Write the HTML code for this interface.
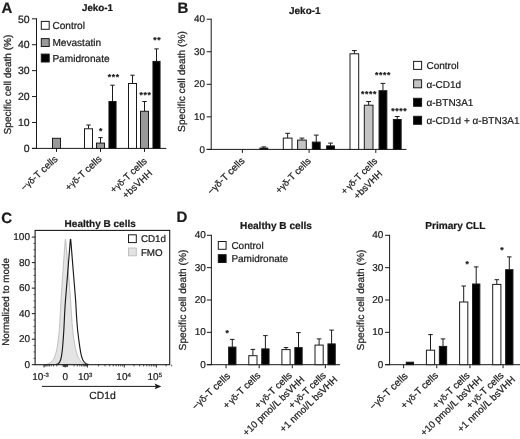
<!DOCTYPE html>
<html><head><meta charset="utf-8"><title>Figure</title>
<style>
html,body{margin:0;padding:0;background:#fff;}
svg{display:block;font-family:"Liberation Sans", sans-serif;}
text{stroke:#1a1a1a;stroke-width:0.22px;text-rendering:geometricPrecision;}
</style></head>
<body>
<svg width="520" height="439" viewBox="0 0 520 439">
<rect x="0" y="0" width="520" height="439" fill="#ffffff"/>
<g id="panelA">
<text x="1.6" y="12.7" font-size="15" font-weight="bold" fill="#1a1a1a">A</text>
<text x="97.5" y="10.5" font-size="9.8" text-anchor="middle" font-weight="bold" fill="#1a1a1a">Jeko-1</text>
<line x1="36.5" y1="18.3" x2="36.5" y2="148.9" stroke="#1a1a1a" stroke-width="1"/>
<line x1="32" y1="148.4" x2="166.3" y2="148.4" stroke="#1a1a1a" stroke-width="1"/>
<line x1="32" y1="148.4" x2="36.5" y2="148.4" stroke="#1a1a1a" stroke-width="1"/>
<text x="29.7" y="152.1" font-size="10.5" text-anchor="end" fill="#1a1a1a">0</text>
<line x1="32" y1="122.48" x2="36.5" y2="122.48" stroke="#1a1a1a" stroke-width="1"/>
<text x="29.7" y="126.18" font-size="10.5" text-anchor="end" fill="#1a1a1a">10</text>
<line x1="32" y1="96.56" x2="36.5" y2="96.56" stroke="#1a1a1a" stroke-width="1"/>
<text x="29.7" y="100.26" font-size="10.5" text-anchor="end" fill="#1a1a1a">20</text>
<line x1="32" y1="70.64" x2="36.5" y2="70.64" stroke="#1a1a1a" stroke-width="1"/>
<text x="29.7" y="74.34" font-size="10.5" text-anchor="end" fill="#1a1a1a">30</text>
<line x1="32" y1="44.72" x2="36.5" y2="44.72" stroke="#1a1a1a" stroke-width="1"/>
<text x="29.7" y="48.42" font-size="10.5" text-anchor="end" fill="#1a1a1a">40</text>
<line x1="32" y1="18.8" x2="36.5" y2="18.8" stroke="#1a1a1a" stroke-width="1"/>
<text x="29.7" y="22.5" font-size="10.5" text-anchor="end" fill="#1a1a1a">50</text>
<text x="10.8" y="84.5" font-size="10.1" text-anchor="middle" fill="#1a1a1a" transform="rotate(-90 10.8 84.5)">Specific cell death (%)</text>
<rect x="41.3" y="21.4" width="7.9" height="7.9" fill="#fff" stroke="#1a1a1a" stroke-width="1"/>
<text x="52.4" y="29.2" font-size="10.1" fill="#1a1a1a">Control</text>
<rect x="41.3" y="38.6" width="7.9" height="7.9" fill="#999" stroke="#1a1a1a" stroke-width="1"/>
<text x="52.4" y="46.4" font-size="10.1" fill="#1a1a1a">Mevastatin</text>
<rect x="41.3" y="54.1" width="7.9" height="7.9" fill="#000" stroke="#1a1a1a" stroke-width="1"/>
<text x="52.4" y="61.9" font-size="10.1" fill="#1a1a1a">Pamidronate</text>
<rect x="52.5" y="138.3" width="8" height="10.1" fill="#999" stroke="#1a1a1a" stroke-width="1"/>
<line x1="56.5" y1="148.4" x2="56.5" y2="151.9" stroke="#1a1a1a" stroke-width="1"/>
<line x1="88.5" y1="128.8" x2="88.5" y2="125" stroke="#1a1a1a" stroke-width="1"/>
<line x1="86.3" y1="125" x2="90.7" y2="125" stroke="#1a1a1a" stroke-width="1"/>
<rect x="84.5" y="128.8" width="8" height="19.6" fill="#fff" stroke="#1a1a1a" stroke-width="1"/>
<line x1="100.5" y1="143.1" x2="100.5" y2="137.6" stroke="#1a1a1a" stroke-width="1"/>
<line x1="98.3" y1="137.6" x2="102.7" y2="137.6" stroke="#1a1a1a" stroke-width="1"/>
<rect x="96.5" y="143.1" width="8" height="5.3" fill="#999" stroke="#1a1a1a" stroke-width="1"/>
<line x1="112.5" y1="101.5" x2="112.5" y2="85.2" stroke="#1a1a1a" stroke-width="1"/>
<line x1="110.3" y1="85.2" x2="114.7" y2="85.2" stroke="#1a1a1a" stroke-width="1"/>
<rect x="108.95" y="101.5" width="7.1" height="46.9" fill="#000" stroke="#1a1a1a" stroke-width="1"/>
<line x1="100.5" y1="148.4" x2="100.5" y2="151.9" stroke="#1a1a1a" stroke-width="1"/>
<line x1="132.5" y1="83.5" x2="132.5" y2="75.2" stroke="#1a1a1a" stroke-width="1"/>
<line x1="130.3" y1="75.2" x2="134.7" y2="75.2" stroke="#1a1a1a" stroke-width="1"/>
<rect x="128.5" y="83.5" width="8" height="64.9" fill="#fff" stroke="#1a1a1a" stroke-width="1"/>
<line x1="144.5" y1="111.3" x2="144.5" y2="101.5" stroke="#1a1a1a" stroke-width="1"/>
<line x1="142.3" y1="101.5" x2="146.7" y2="101.5" stroke="#1a1a1a" stroke-width="1"/>
<rect x="140.5" y="111.3" width="8" height="37.1" fill="#999" stroke="#1a1a1a" stroke-width="1"/>
<line x1="156.5" y1="61.4" x2="156.5" y2="48.9" stroke="#1a1a1a" stroke-width="1"/>
<line x1="154.3" y1="48.9" x2="158.7" y2="48.9" stroke="#1a1a1a" stroke-width="1"/>
<rect x="152.95" y="61.4" width="7.1" height="87" fill="#000" stroke="#1a1a1a" stroke-width="1"/>
<line x1="144.5" y1="148.4" x2="144.5" y2="151.9" stroke="#1a1a1a" stroke-width="1"/>
<text x="113.7" y="80.4" font-size="8.6" text-anchor="middle" font-weight="bold" fill="#1a1a1a" letter-spacing="0.65">***</text>
<text x="100.8" y="133.6" font-size="8.6" text-anchor="middle" font-weight="bold" fill="#1a1a1a">*</text>
<text x="145.5" y="98" font-size="8.6" text-anchor="middle" font-weight="bold" fill="#1a1a1a" letter-spacing="0.65">***</text>
<text x="157.2" y="43.4" font-size="8.6" text-anchor="middle" font-weight="bold" fill="#1a1a1a" letter-spacing="0.65">**</text>
<text x="58.3" y="159.8" font-size="9.8" text-anchor="end" fill="#1a1a1a" transform="rotate(-43 58.3 159.8)">−<tspan font-size="8.8">γδ</tspan>-T cells</text>
<text x="102.3" y="159.8" font-size="9.7" text-anchor="end" fill="#1a1a1a" transform="rotate(-43 102.3 159.8)">+<tspan font-size="8.8">γδ</tspan>-T cells</text>
<text x="147.5" y="162" font-size="9.7" text-anchor="end" fill="#1a1a1a" transform="rotate(-43 147.5 162)">+<tspan font-size="8.8">γδ</tspan>-T cells</text>
<text x="153" y="174" font-size="9.8" text-anchor="end" fill="#1a1a1a" transform="rotate(-43 153 174)">+bsVHH</text>
</g>
<g id="panelB">
<text x="177.6" y="12.7" font-size="15" font-weight="bold" fill="#1a1a1a">B</text>
<text x="304.8" y="13.8" font-size="10" text-anchor="middle" font-weight="bold" fill="#1a1a1a">Jeko-1</text>
<line x1="211.2" y1="18.7" x2="211.2" y2="149.9" stroke="#1a1a1a" stroke-width="1"/>
<line x1="206.7" y1="149.4" x2="406.5" y2="149.4" stroke="#1a1a1a" stroke-width="1"/>
<line x1="206.7" y1="149.4" x2="211.2" y2="149.4" stroke="#1a1a1a" stroke-width="1"/>
<text x="204.9" y="152.5" font-size="9.8" text-anchor="end" fill="#1a1a1a">0</text>
<line x1="206.7" y1="116.85" x2="211.2" y2="116.85" stroke="#1a1a1a" stroke-width="1"/>
<text x="204.9" y="119.95" font-size="9.8" text-anchor="end" fill="#1a1a1a">10</text>
<line x1="206.7" y1="84.3" x2="211.2" y2="84.3" stroke="#1a1a1a" stroke-width="1"/>
<text x="204.9" y="87.4" font-size="9.8" text-anchor="end" fill="#1a1a1a">20</text>
<line x1="206.7" y1="51.75" x2="211.2" y2="51.75" stroke="#1a1a1a" stroke-width="1"/>
<text x="204.9" y="54.85" font-size="9.8" text-anchor="end" fill="#1a1a1a">30</text>
<line x1="206.7" y1="19.2" x2="211.2" y2="19.2" stroke="#1a1a1a" stroke-width="1"/>
<text x="204.9" y="22.3" font-size="9.8" text-anchor="end" fill="#1a1a1a">40</text>
<text x="184.6" y="81.5" font-size="10.2" text-anchor="middle" fill="#1a1a1a" transform="rotate(-90 184.6 81.5)">Specific cell death (%)</text>
<line x1="263.85" y1="148.1" x2="263.85" y2="146.9" stroke="#1a1a1a" stroke-width="1"/>
<line x1="261.46" y1="146.9" x2="266.24" y2="146.9" stroke="#1a1a1a" stroke-width="1"/>
<rect x="259.95" y="148.1" width="7.8" height="1.3" fill="#000" stroke="#1a1a1a" stroke-width="1"/>
<line x1="242.4" y1="149.4" x2="242.4" y2="152.9" stroke="#1a1a1a" stroke-width="1"/>
<line x1="287.65" y1="138.1" x2="287.65" y2="133.3" stroke="#1a1a1a" stroke-width="1"/>
<line x1="285.26" y1="133.3" x2="290.04" y2="133.3" stroke="#1a1a1a" stroke-width="1"/>
<rect x="283.3" y="138.1" width="8.7" height="11.3" fill="#fff" stroke="#1a1a1a" stroke-width="1"/>
<line x1="301.95" y1="140.1" x2="301.95" y2="138.1" stroke="#1a1a1a" stroke-width="1"/>
<line x1="299.56" y1="138.1" x2="304.34" y2="138.1" stroke="#1a1a1a" stroke-width="1"/>
<rect x="297.6" y="140.1" width="8.7" height="9.3" fill="#c4c4c4" stroke="#1a1a1a" stroke-width="1"/>
<line x1="316.25" y1="142.1" x2="316.25" y2="135.1" stroke="#1a1a1a" stroke-width="1"/>
<line x1="313.86" y1="135.1" x2="318.64" y2="135.1" stroke="#1a1a1a" stroke-width="1"/>
<rect x="312.35" y="142.1" width="7.8" height="7.3" fill="#000" stroke="#1a1a1a" stroke-width="1"/>
<line x1="330.55" y1="145.9" x2="330.55" y2="143.1" stroke="#1a1a1a" stroke-width="1"/>
<line x1="328.16" y1="143.1" x2="332.94" y2="143.1" stroke="#1a1a1a" stroke-width="1"/>
<rect x="326.65" y="145.9" width="7.8" height="3.5" fill="#000" stroke="#1a1a1a" stroke-width="1"/>
<line x1="309.1" y1="149.4" x2="309.1" y2="152.9" stroke="#1a1a1a" stroke-width="1"/>
<line x1="354.35" y1="53.8" x2="354.35" y2="50.6" stroke="#1a1a1a" stroke-width="1"/>
<line x1="351.96" y1="50.6" x2="356.74" y2="50.6" stroke="#1a1a1a" stroke-width="1"/>
<rect x="350" y="53.8" width="8.7" height="95.6" fill="#fff" stroke="#1a1a1a" stroke-width="1"/>
<line x1="368.65" y1="105.2" x2="368.65" y2="101.5" stroke="#1a1a1a" stroke-width="1"/>
<line x1="366.26" y1="101.5" x2="371.04" y2="101.5" stroke="#1a1a1a" stroke-width="1"/>
<rect x="364.3" y="105.2" width="8.7" height="44.2" fill="#c4c4c4" stroke="#1a1a1a" stroke-width="1"/>
<line x1="382.95" y1="90.7" x2="382.95" y2="83.4" stroke="#1a1a1a" stroke-width="1"/>
<line x1="380.56" y1="83.4" x2="385.34" y2="83.4" stroke="#1a1a1a" stroke-width="1"/>
<rect x="379.05" y="90.7" width="7.8" height="58.7" fill="#000" stroke="#1a1a1a" stroke-width="1"/>
<line x1="397.25" y1="119.5" x2="397.25" y2="116.5" stroke="#1a1a1a" stroke-width="1"/>
<line x1="394.86" y1="116.5" x2="399.64" y2="116.5" stroke="#1a1a1a" stroke-width="1"/>
<rect x="393.35" y="119.5" width="7.8" height="29.9" fill="#000" stroke="#1a1a1a" stroke-width="1"/>
<line x1="375.8" y1="149.4" x2="375.8" y2="152.9" stroke="#1a1a1a" stroke-width="1"/>
<text x="369" y="97" font-size="8.6" text-anchor="middle" font-weight="bold" fill="#1a1a1a" letter-spacing="0.65">****</text>
<text x="382.9" y="77.5" font-size="8.6" text-anchor="middle" font-weight="bold" fill="#1a1a1a" letter-spacing="0.65">****</text>
<text x="399.2" y="113.9" font-size="8.6" text-anchor="middle" font-weight="bold" fill="#1a1a1a" letter-spacing="0.65">****</text>
<rect x="413.6" y="61.4" width="8" height="8" fill="#fff" stroke="#1a1a1a" stroke-width="1"/>
<text x="426.5" y="69.3" font-size="10" fill="#1a1a1a">Control</text>
<rect x="413.6" y="79.8" width="8" height="8" fill="#c4c4c4" stroke="#1a1a1a" stroke-width="1"/>
<text x="426.5" y="87.7" font-size="10" fill="#1a1a1a">α-CD1d</text>
<rect x="413.6" y="98.3" width="8" height="8" fill="#000" stroke="#1a1a1a" stroke-width="1"/>
<text x="426.5" y="106.2" font-size="10" fill="#1a1a1a">α-BTN3A1</text>
<rect x="413.6" y="116.3" width="8" height="8" fill="#000" stroke="#1a1a1a" stroke-width="1"/>
<text x="426.5" y="124.2" font-size="10" fill="#1a1a1a">α-CD1d + α-BTN3A1</text>
<text x="245.2" y="161.4" font-size="10" text-anchor="end" fill="#1a1a1a" transform="rotate(-45 245.2 161.4)">−<tspan font-size="9.5">γδ</tspan>-T cells</text>
<text x="311.5" y="161.6" font-size="9.6" text-anchor="end" fill="#1a1a1a" transform="rotate(-45 311.5 161.6)">+<tspan font-size="8.8">γδ</tspan>-T cells</text>
<text x="378" y="161.7" font-size="9.6" text-anchor="end" fill="#1a1a1a" transform="rotate(-45 378 161.7)">+<tspan dx="1.3" font-size="8.8">γδ</tspan>-T cells</text>
<text x="382.9" y="174.3" font-size="9.6" text-anchor="end" fill="#1a1a1a" transform="rotate(-45 382.9 174.3)">+bsVHH</text>
</g>
<g id="panelC">
<text x="1.2" y="223" font-size="15" font-weight="bold" fill="#1a1a1a">C</text>
<text x="100.2" y="226.5" font-size="10" text-anchor="middle" font-weight="bold" fill="#1a1a1a">Healthy B cells</text>
<path d="M46.6,364.4 C47,364.27 47.97,364.28 49,363.6 C50.03,362.92 51.78,361.67 52.8,360.3 C53.82,358.93 54.37,357.58 55.1,355.4 C55.83,353.22 56.52,351.3 57.2,347.2 C57.88,343.1 58.7,336.27 59.2,330.8 C59.7,325.33 59.9,319.53 60.2,314.4 C60.5,309.27 60.55,307.1 61,300 C61.45,292.9 62.25,281.13 62.9,271.8 C63.55,262.47 64.48,249.42 64.9,244 C65.33,238.58 65.27,239.3 65.45,239.3 C65.63,239.3 65.51,238.58 66,244 C66.49,249.42 67.63,262.47 68.4,271.8 C69.17,281.13 70.08,292.9 70.6,300 C71.12,307.1 71.13,309.27 71.5,314.4 C71.87,319.53 72.18,325.33 72.8,330.8 C73.42,336.27 74.43,343.1 75.2,347.2 C75.97,351.3 76.57,353.22 77.4,355.4 C78.23,357.58 79.2,358.93 80.2,360.3 C81.2,361.67 82.32,362.92 83.4,363.6 C84.48,364.28 86.15,364.27 86.7,364.4 Z" fill="#e4e4e4" stroke="#b4b4b4" stroke-width="0.8" stroke-linejoin="round"/>
<path d="M56.4,364.4 C56.73,364.27 57.72,364.28 58.4,363.6 C59.08,362.92 59.97,361.67 60.5,360.3 C61.03,358.93 61.25,357.58 61.6,355.4 C61.95,353.22 62.23,351.3 62.6,347.2 C62.97,343.1 63.47,336.27 63.8,330.8 C64.13,325.33 64.32,319.53 64.6,314.4 C64.88,309.27 64.97,307.1 65.5,300 C66.03,292.9 67.05,281.13 67.8,271.8 C68.55,262.47 69.54,249.42 70,244 C70.46,238.58 70.37,239.3 70.55,239.3 C70.73,239.3 70.64,238.58 71.1,244 C71.56,249.42 72.55,262.47 73.3,271.8 C74.05,281.13 75.08,292.9 75.6,300 C76.12,307.1 76.05,309.27 76.4,314.4 C76.75,319.53 77.13,325.33 77.7,330.8 C78.27,336.27 79.2,343.1 79.8,347.2 C80.4,351.3 80.77,353.22 81.3,355.4 C81.83,357.58 82.23,358.93 83,360.3 C83.77,361.67 85,362.92 85.9,363.6 C86.8,364.28 87.98,364.27 88.4,364.4" fill="none" stroke="#1a1a1a" stroke-width="1.15" stroke-linejoin="round"/>
<rect x="35.1" y="230.4" width="134.6" height="134.3" fill="none" stroke="#1a1a1a" stroke-width="1.1"/>
<line x1="31.8" y1="364.7" x2="35.1" y2="364.7" stroke="#1a1a1a" stroke-width="1"/>
<text x="30" y="367.8" font-size="10" text-anchor="end" fill="#1a1a1a">0</text>
<line x1="33.5" y1="358.32" x2="35.1" y2="358.32" stroke="#1a1a1a" stroke-width="0.7"/>
<line x1="33.5" y1="351.94" x2="35.1" y2="351.94" stroke="#1a1a1a" stroke-width="0.7"/>
<line x1="33.5" y1="345.56" x2="35.1" y2="345.56" stroke="#1a1a1a" stroke-width="0.7"/>
<line x1="31.8" y1="339.18" x2="35.1" y2="339.18" stroke="#1a1a1a" stroke-width="1"/>
<text x="30" y="342.28" font-size="10" text-anchor="end" fill="#1a1a1a">20</text>
<line x1="33.5" y1="332.8" x2="35.1" y2="332.8" stroke="#1a1a1a" stroke-width="0.7"/>
<line x1="33.5" y1="326.42" x2="35.1" y2="326.42" stroke="#1a1a1a" stroke-width="0.7"/>
<line x1="33.5" y1="320.04" x2="35.1" y2="320.04" stroke="#1a1a1a" stroke-width="0.7"/>
<line x1="31.8" y1="313.66" x2="35.1" y2="313.66" stroke="#1a1a1a" stroke-width="1"/>
<text x="30" y="316.76" font-size="10" text-anchor="end" fill="#1a1a1a">40</text>
<line x1="33.5" y1="307.28" x2="35.1" y2="307.28" stroke="#1a1a1a" stroke-width="0.7"/>
<line x1="33.5" y1="300.9" x2="35.1" y2="300.9" stroke="#1a1a1a" stroke-width="0.7"/>
<line x1="33.5" y1="294.52" x2="35.1" y2="294.52" stroke="#1a1a1a" stroke-width="0.7"/>
<line x1="31.8" y1="288.14" x2="35.1" y2="288.14" stroke="#1a1a1a" stroke-width="1"/>
<text x="30" y="291.24" font-size="10" text-anchor="end" fill="#1a1a1a">60</text>
<line x1="33.5" y1="281.76" x2="35.1" y2="281.76" stroke="#1a1a1a" stroke-width="0.7"/>
<line x1="33.5" y1="275.38" x2="35.1" y2="275.38" stroke="#1a1a1a" stroke-width="0.7"/>
<line x1="33.5" y1="269" x2="35.1" y2="269" stroke="#1a1a1a" stroke-width="0.7"/>
<line x1="31.8" y1="262.62" x2="35.1" y2="262.62" stroke="#1a1a1a" stroke-width="1"/>
<text x="30" y="265.72" font-size="10" text-anchor="end" fill="#1a1a1a">80</text>
<line x1="33.5" y1="256.24" x2="35.1" y2="256.24" stroke="#1a1a1a" stroke-width="0.7"/>
<line x1="33.5" y1="249.86" x2="35.1" y2="249.86" stroke="#1a1a1a" stroke-width="0.7"/>
<line x1="33.5" y1="243.48" x2="35.1" y2="243.48" stroke="#1a1a1a" stroke-width="0.7"/>
<line x1="31.8" y1="237.1" x2="35.1" y2="237.1" stroke="#1a1a1a" stroke-width="1"/>
<text x="30" y="240.2" font-size="10" text-anchor="end" fill="#1a1a1a">100</text>
<line x1="44" y1="364.7" x2="44" y2="367.5" stroke="#1a1a1a" stroke-width="0.9"/>
<line x1="65.3" y1="364.7" x2="65.3" y2="367.5" stroke="#1a1a1a" stroke-width="0.9"/>
<line x1="87.4" y1="364.7" x2="87.4" y2="367.5" stroke="#1a1a1a" stroke-width="0.9"/>
<line x1="124.3" y1="364.7" x2="124.3" y2="367.5" stroke="#1a1a1a" stroke-width="0.9"/>
<line x1="156.4" y1="364.7" x2="156.4" y2="367.5" stroke="#1a1a1a" stroke-width="0.9"/>
<line x1="63.1" y1="364.7" x2="63.1" y2="366.9" stroke="#1a1a1a" stroke-width="0.8"/>
<line x1="63.8" y1="364.7" x2="63.8" y2="366.9" stroke="#1a1a1a" stroke-width="0.8"/>
<line x1="64.5" y1="364.7" x2="64.5" y2="366.9" stroke="#1a1a1a" stroke-width="0.8"/>
<line x1="66.1" y1="364.7" x2="66.1" y2="366.9" stroke="#1a1a1a" stroke-width="0.8"/>
<line x1="66.8" y1="364.7" x2="66.8" y2="366.9" stroke="#1a1a1a" stroke-width="0.8"/>
<line x1="67.5" y1="364.7" x2="67.5" y2="366.9" stroke="#1a1a1a" stroke-width="0.8"/>
<line x1="56.79" y1="364.7" x2="56.79" y2="366.4" stroke="#1a1a1a" stroke-width="0.75"/>
<line x1="53.57" y1="364.7" x2="53.57" y2="366.4" stroke="#1a1a1a" stroke-width="0.75"/>
<line x1="51.28" y1="364.7" x2="51.28" y2="366.4" stroke="#1a1a1a" stroke-width="0.75"/>
<line x1="49.51" y1="364.7" x2="49.51" y2="366.4" stroke="#1a1a1a" stroke-width="0.75"/>
<line x1="48.06" y1="364.7" x2="48.06" y2="366.4" stroke="#1a1a1a" stroke-width="0.75"/>
<line x1="46.83" y1="364.7" x2="46.83" y2="366.4" stroke="#1a1a1a" stroke-width="0.75"/>
<line x1="45.77" y1="364.7" x2="45.77" y2="366.4" stroke="#1a1a1a" stroke-width="0.75"/>
<line x1="44.84" y1="364.7" x2="44.84" y2="366.4" stroke="#1a1a1a" stroke-width="0.75"/>
<line x1="74.05" y1="364.7" x2="74.05" y2="366.4" stroke="#1a1a1a" stroke-width="0.75"/>
<line x1="77.41" y1="364.7" x2="77.41" y2="366.4" stroke="#1a1a1a" stroke-width="0.75"/>
<line x1="79.8" y1="364.7" x2="79.8" y2="366.4" stroke="#1a1a1a" stroke-width="0.75"/>
<line x1="81.65" y1="364.7" x2="81.65" y2="366.4" stroke="#1a1a1a" stroke-width="0.75"/>
<line x1="83.16" y1="364.7" x2="83.16" y2="366.4" stroke="#1a1a1a" stroke-width="0.75"/>
<line x1="84.44" y1="364.7" x2="84.44" y2="366.4" stroke="#1a1a1a" stroke-width="0.75"/>
<line x1="85.55" y1="364.7" x2="85.55" y2="366.4" stroke="#1a1a1a" stroke-width="0.75"/>
<line x1="86.53" y1="364.7" x2="86.53" y2="366.4" stroke="#1a1a1a" stroke-width="0.75"/>
<line x1="98.51" y1="364.7" x2="98.51" y2="366.4" stroke="#1a1a1a" stroke-width="0.75"/>
<line x1="105.01" y1="364.7" x2="105.01" y2="366.4" stroke="#1a1a1a" stroke-width="0.75"/>
<line x1="109.62" y1="364.7" x2="109.62" y2="366.4" stroke="#1a1a1a" stroke-width="0.75"/>
<line x1="113.19" y1="364.7" x2="113.19" y2="366.4" stroke="#1a1a1a" stroke-width="0.75"/>
<line x1="116.11" y1="364.7" x2="116.11" y2="366.4" stroke="#1a1a1a" stroke-width="0.75"/>
<line x1="118.58" y1="364.7" x2="118.58" y2="366.4" stroke="#1a1a1a" stroke-width="0.75"/>
<line x1="120.72" y1="364.7" x2="120.72" y2="366.4" stroke="#1a1a1a" stroke-width="0.75"/>
<line x1="122.61" y1="364.7" x2="122.61" y2="366.4" stroke="#1a1a1a" stroke-width="0.75"/>
<line x1="133.96" y1="364.7" x2="133.96" y2="366.4" stroke="#1a1a1a" stroke-width="0.75"/>
<line x1="139.62" y1="364.7" x2="139.62" y2="366.4" stroke="#1a1a1a" stroke-width="0.75"/>
<line x1="143.63" y1="364.7" x2="143.63" y2="366.4" stroke="#1a1a1a" stroke-width="0.75"/>
<line x1="146.74" y1="364.7" x2="146.74" y2="366.4" stroke="#1a1a1a" stroke-width="0.75"/>
<line x1="149.28" y1="364.7" x2="149.28" y2="366.4" stroke="#1a1a1a" stroke-width="0.75"/>
<line x1="151.43" y1="364.7" x2="151.43" y2="366.4" stroke="#1a1a1a" stroke-width="0.75"/>
<line x1="153.29" y1="364.7" x2="153.29" y2="366.4" stroke="#1a1a1a" stroke-width="0.75"/>
<line x1="154.93" y1="364.7" x2="154.93" y2="366.4" stroke="#1a1a1a" stroke-width="0.75"/>
<line x1="166.06" y1="364.7" x2="166.06" y2="366.4" stroke="#1a1a1a" stroke-width="0.75"/>
<line x1="171.72" y1="364.7" x2="171.72" y2="366.4" stroke="#1a1a1a" stroke-width="0.75"/>
<text x="40.5" y="380.4" font-size="10" text-anchor="middle" fill="#1a1a1a">10<tspan font-size="6" dy="-3.8">-3</tspan></text>
<text x="65.3" y="380.4" font-size="10" text-anchor="middle" fill="#1a1a1a">0</text>
<text x="85.2" y="380.4" font-size="10" text-anchor="middle" fill="#1a1a1a">10<tspan font-size="6" dy="-3.8">3</tspan></text>
<text x="123.6" y="380.4" font-size="10" text-anchor="middle" fill="#1a1a1a">10<tspan font-size="6" dy="-3.8">4</tspan></text>
<text x="154.8" y="380.4" font-size="10" text-anchor="middle" fill="#1a1a1a">10<tspan font-size="6" dy="-3.8">5</tspan></text>
<line x1="41.9" y1="386.4" x2="156" y2="386.4" stroke="#1a1a1a" stroke-width="1"/>
<path d="M154.6,383.5 L161.3,386.4 L154.6,389.3 L156,386.4 Z" fill="#1a1a1a"/>
<text x="102.5" y="398.7" font-size="10.4" text-anchor="middle" fill="#1a1a1a">CD1d</text>
<text x="8.5" y="302" font-size="9.8" text-anchor="middle" fill="#1a1a1a" transform="rotate(-90 8.5 302)">Normalized to mode</text>
<rect x="128.5" y="234.8" width="7.8" height="7.8" fill="#fff" stroke="#1a1a1a" stroke-width="1"/>
<text x="140.9" y="242.2" font-size="9.8" fill="#1a1a1a">CD1d</text>
<rect x="128.5" y="248" width="7.8" height="7.8" fill="#e2e2e2" stroke="#bcbcbc" stroke-width="0.9"/>
<text x="140.9" y="255.5" font-size="9.8" fill="#1a1a1a">FMO</text>
</g>
<g id="panelD">
<text x="176.6" y="221.8" font-size="15" font-weight="bold" fill="#1a1a1a">D</text>
<text x="276" y="229.2" font-size="10.1" text-anchor="middle" font-weight="bold" fill="#1a1a1a">Healthy B cells</text>
<line x1="211.4" y1="234.8" x2="211.4" y2="365.2" stroke="#1a1a1a" stroke-width="1"/>
<line x1="206.9" y1="364.7" x2="340.1" y2="364.7" stroke="#1a1a1a" stroke-width="1"/>
<line x1="206.9" y1="364.7" x2="211.4" y2="364.7" stroke="#1a1a1a" stroke-width="1"/>
<text x="205.9" y="367.8" font-size="10" text-anchor="end" fill="#1a1a1a">0</text>
<line x1="206.9" y1="332.35" x2="211.4" y2="332.35" stroke="#1a1a1a" stroke-width="1"/>
<text x="205.9" y="335.45" font-size="10" text-anchor="end" fill="#1a1a1a">10</text>
<line x1="206.9" y1="300" x2="211.4" y2="300" stroke="#1a1a1a" stroke-width="1"/>
<text x="205.9" y="303.1" font-size="10" text-anchor="end" fill="#1a1a1a">20</text>
<line x1="206.9" y1="267.65" x2="211.4" y2="267.65" stroke="#1a1a1a" stroke-width="1"/>
<text x="205.9" y="270.75" font-size="10" text-anchor="end" fill="#1a1a1a">30</text>
<line x1="206.9" y1="235.3" x2="211.4" y2="235.3" stroke="#1a1a1a" stroke-width="1"/>
<text x="205.9" y="238.4" font-size="10" text-anchor="end" fill="#1a1a1a">40</text>
<text x="186.1" y="300" font-size="10.2" text-anchor="middle" fill="#1a1a1a" transform="rotate(-90 186.1 300)">Specific cell death (%)</text>
<line x1="232.3" y1="347.1" x2="232.3" y2="339.4" stroke="#1a1a1a" stroke-width="1"/>
<line x1="230.04" y1="339.4" x2="234.55" y2="339.4" stroke="#1a1a1a" stroke-width="1"/>
<rect x="228.65" y="347.1" width="7.3" height="17.6" fill="#000" stroke="#1a1a1a" stroke-width="1"/>
<line x1="226.05" y1="364.7" x2="226.05" y2="368.2" stroke="#1a1a1a" stroke-width="1"/>
<line x1="252.9" y1="355.7" x2="252.9" y2="349.4" stroke="#1a1a1a" stroke-width="1"/>
<line x1="250.65" y1="349.4" x2="255.16" y2="349.4" stroke="#1a1a1a" stroke-width="1"/>
<rect x="248.8" y="355.7" width="8.2" height="9" fill="#fff" stroke="#1a1a1a" stroke-width="1"/>
<line x1="265.4" y1="348.9" x2="265.4" y2="335.6" stroke="#1a1a1a" stroke-width="1"/>
<line x1="263.15" y1="335.6" x2="267.66" y2="335.6" stroke="#1a1a1a" stroke-width="1"/>
<rect x="261.75" y="348.9" width="7.3" height="15.8" fill="#000" stroke="#1a1a1a" stroke-width="1"/>
<line x1="259.15" y1="364.7" x2="259.15" y2="368.2" stroke="#1a1a1a" stroke-width="1"/>
<line x1="286" y1="349.6" x2="286" y2="347.6" stroke="#1a1a1a" stroke-width="1"/>
<line x1="283.75" y1="347.6" x2="288.25" y2="347.6" stroke="#1a1a1a" stroke-width="1"/>
<rect x="281.9" y="349.6" width="8.2" height="15.1" fill="#fff" stroke="#1a1a1a" stroke-width="1"/>
<line x1="298.5" y1="347.6" x2="298.5" y2="332.6" stroke="#1a1a1a" stroke-width="1"/>
<line x1="296.25" y1="332.6" x2="300.75" y2="332.6" stroke="#1a1a1a" stroke-width="1"/>
<rect x="294.85" y="347.6" width="7.3" height="17.1" fill="#000" stroke="#1a1a1a" stroke-width="1"/>
<line x1="292.25" y1="364.7" x2="292.25" y2="368.2" stroke="#1a1a1a" stroke-width="1"/>
<line x1="319.1" y1="345.1" x2="319.1" y2="338.9" stroke="#1a1a1a" stroke-width="1"/>
<line x1="316.85" y1="338.9" x2="321.36" y2="338.9" stroke="#1a1a1a" stroke-width="1"/>
<rect x="315" y="345.1" width="8.2" height="19.6" fill="#fff" stroke="#1a1a1a" stroke-width="1"/>
<line x1="331.6" y1="343.9" x2="331.6" y2="330.1" stroke="#1a1a1a" stroke-width="1"/>
<line x1="329.35" y1="330.1" x2="333.86" y2="330.1" stroke="#1a1a1a" stroke-width="1"/>
<rect x="327.95" y="343.9" width="7.3" height="20.8" fill="#000" stroke="#1a1a1a" stroke-width="1"/>
<line x1="325.35" y1="364.7" x2="325.35" y2="368.2" stroke="#1a1a1a" stroke-width="1"/>
<text x="227.1" y="335.5" font-size="8.6" text-anchor="middle" font-weight="bold" fill="#1a1a1a">*</text>
<text x="230.85" y="376.6" font-size="10.2" text-anchor="end" fill="#1a1a1a" transform="rotate(-44 230.85 376.6)">−<tspan font-size="9.6">γδ</tspan>-T cells</text>
<text x="261.15" y="376" font-size="9.8" text-anchor="end" fill="#1a1a1a" transform="rotate(-44 261.15 376)">+<tspan dx="1.3" font-size="8.8">γδ</tspan>-T cells</text>
<text x="292.55" y="376" font-size="9.8" text-anchor="end" fill="#1a1a1a" transform="rotate(-44 292.55 376)">+<tspan dx="1.3" font-size="8.8">γδ</tspan>-T cells</text>
<text x="305.05" y="380.1" font-size="9.7" text-anchor="end" fill="#1a1a1a" transform="rotate(-44 305.05 380.1)">+10 pmol/L bsVHH</text>
<text x="326.65" y="376" font-size="9.8" text-anchor="end" fill="#1a1a1a" transform="rotate(-44 326.65 376)">+<tspan dx="1.3" font-size="8.8">γδ</tspan>-T cells</text>
<text x="338.15" y="380.1" font-size="9.7" text-anchor="end" fill="#1a1a1a" transform="rotate(-44 338.15 380.1)">+1 nmol/L bsVHH</text>
<rect x="218.3" y="241.5" width="7.8" height="7.8" fill="#fff" stroke="#1a1a1a" stroke-width="1"/>
<text x="231.4" y="248.9" font-size="10" fill="#1a1a1a">Control</text>
<rect x="218.3" y="254.7" width="7.8" height="7.8" fill="#000" stroke="#1a1a1a" stroke-width="1"/>
<text x="231.4" y="262.1" font-size="10" fill="#1a1a1a">Pamidronate</text>
<text x="455.3" y="229.2" font-size="10.1" text-anchor="middle" font-weight="bold" fill="#1a1a1a">Primary CLL</text>
<line x1="389.6" y1="234.8" x2="389.6" y2="365.2" stroke="#1a1a1a" stroke-width="1"/>
<line x1="385.1" y1="364.7" x2="520" y2="364.7" stroke="#1a1a1a" stroke-width="1"/>
<line x1="385.1" y1="364.7" x2="389.6" y2="364.7" stroke="#1a1a1a" stroke-width="1"/>
<text x="383.4" y="367.8" font-size="10" text-anchor="end" fill="#1a1a1a">0</text>
<line x1="385.1" y1="332.35" x2="389.6" y2="332.35" stroke="#1a1a1a" stroke-width="1"/>
<text x="383.4" y="335.45" font-size="10" text-anchor="end" fill="#1a1a1a">10</text>
<line x1="385.1" y1="300" x2="389.6" y2="300" stroke="#1a1a1a" stroke-width="1"/>
<text x="383.4" y="303.1" font-size="10" text-anchor="end" fill="#1a1a1a">20</text>
<line x1="385.1" y1="267.65" x2="389.6" y2="267.65" stroke="#1a1a1a" stroke-width="1"/>
<text x="383.4" y="270.75" font-size="10" text-anchor="end" fill="#1a1a1a">30</text>
<line x1="385.1" y1="235.3" x2="389.6" y2="235.3" stroke="#1a1a1a" stroke-width="1"/>
<text x="383.4" y="238.4" font-size="10" text-anchor="end" fill="#1a1a1a">40</text>
<text x="364.3" y="300" font-size="10.2" text-anchor="middle" fill="#1a1a1a" transform="rotate(-90 364.3 300)">Specific cell death (%)</text>
<rect x="406.25" y="362.2" width="7.3" height="2.5" fill="#000" stroke="#1a1a1a" stroke-width="1"/>
<line x1="403.65" y1="364.7" x2="403.65" y2="368.2" stroke="#1a1a1a" stroke-width="1"/>
<line x1="430.5" y1="350.2" x2="430.5" y2="334.6" stroke="#1a1a1a" stroke-width="1"/>
<line x1="428.25" y1="334.6" x2="432.75" y2="334.6" stroke="#1a1a1a" stroke-width="1"/>
<rect x="426.4" y="350.2" width="8.2" height="14.5" fill="#fff" stroke="#1a1a1a" stroke-width="1"/>
<line x1="443" y1="346.4" x2="443" y2="338.9" stroke="#1a1a1a" stroke-width="1"/>
<line x1="440.75" y1="338.9" x2="445.25" y2="338.9" stroke="#1a1a1a" stroke-width="1"/>
<rect x="439.35" y="346.4" width="7.3" height="18.3" fill="#000" stroke="#1a1a1a" stroke-width="1"/>
<line x1="436.75" y1="364.7" x2="436.75" y2="368.2" stroke="#1a1a1a" stroke-width="1"/>
<line x1="463.7" y1="302" x2="463.7" y2="286" stroke="#1a1a1a" stroke-width="1"/>
<line x1="461.45" y1="286" x2="465.96" y2="286" stroke="#1a1a1a" stroke-width="1"/>
<rect x="459.6" y="302" width="8.2" height="62.7" fill="#fff" stroke="#1a1a1a" stroke-width="1"/>
<line x1="476.2" y1="284" x2="476.2" y2="266.9" stroke="#1a1a1a" stroke-width="1"/>
<line x1="473.95" y1="266.9" x2="478.46" y2="266.9" stroke="#1a1a1a" stroke-width="1"/>
<rect x="472.55" y="284" width="7.3" height="80.7" fill="#000" stroke="#1a1a1a" stroke-width="1"/>
<line x1="469.95" y1="364.7" x2="469.95" y2="368.2" stroke="#1a1a1a" stroke-width="1"/>
<line x1="496.8" y1="284.4" x2="496.8" y2="279.7" stroke="#1a1a1a" stroke-width="1"/>
<line x1="494.55" y1="279.7" x2="499.06" y2="279.7" stroke="#1a1a1a" stroke-width="1"/>
<rect x="492.7" y="284.4" width="8.2" height="80.3" fill="#fff" stroke="#1a1a1a" stroke-width="1"/>
<line x1="509.3" y1="269.7" x2="509.3" y2="256.9" stroke="#1a1a1a" stroke-width="1"/>
<line x1="507.05" y1="256.9" x2="511.56" y2="256.9" stroke="#1a1a1a" stroke-width="1"/>
<rect x="505.65" y="269.7" width="7.3" height="95" fill="#000" stroke="#1a1a1a" stroke-width="1"/>
<line x1="503.05" y1="364.7" x2="503.05" y2="368.2" stroke="#1a1a1a" stroke-width="1"/>
<text x="467.1" y="266.5" font-size="8.6" text-anchor="middle" font-weight="bold" fill="#1a1a1a">*</text>
<text x="501.9" y="253" font-size="8.6" text-anchor="middle" font-weight="bold" fill="#1a1a1a">*</text>
<text x="408.45" y="376.6" font-size="10.2" text-anchor="end" fill="#1a1a1a" transform="rotate(-44 408.45 376.6)">−<tspan font-size="9.6">γδ</tspan>-T cells</text>
<text x="438.75" y="376" font-size="9.8" text-anchor="end" fill="#1a1a1a" transform="rotate(-44 438.75 376)">+<tspan dx="1.3" font-size="8.8">γδ</tspan>-T cells</text>
<text x="470.25" y="376" font-size="9.8" text-anchor="end" fill="#1a1a1a" transform="rotate(-44 470.25 376)">+<tspan dx="1.3" font-size="8.8">γδ</tspan>-T cells</text>
<text x="482.75" y="380.1" font-size="9.7" text-anchor="end" fill="#1a1a1a" transform="rotate(-44 482.75 380.1)">+10 pmol/L bsVHH</text>
<text x="504.35" y="376" font-size="9.8" text-anchor="end" fill="#1a1a1a" transform="rotate(-44 504.35 376)">+<tspan dx="1.3" font-size="8.8">γδ</tspan>-T cells</text>
<text x="515.85" y="380.1" font-size="9.7" text-anchor="end" fill="#1a1a1a" transform="rotate(-44 515.85 380.1)">+1 nmol/L bsVHH</text>
</g>
</svg>
</body></html>
